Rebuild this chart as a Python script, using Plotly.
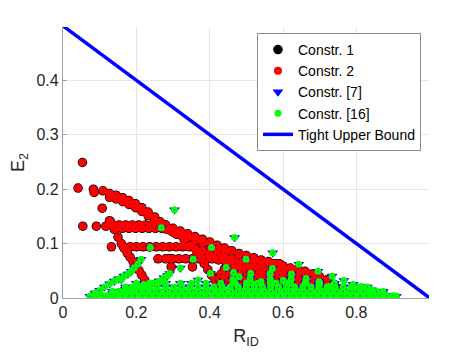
import plotly.graph_objects as go

# ---------------- Constr. 1 / Constr. 2 (achievable points, same locations) -------------
iso_r = [0.053, 0.041, 0.083, 0.085, 0.109, 0.107, 0.054, 0.091, 0.117, 0.127, 0.132, 0.259, 0.291, 0.295, 0.353]
iso_e = [0.249, 0.202, 0.200, 0.194, 0.197, 0.165, 0.132, 0.132, 0.132, 0.142, 0.094, 0.072, 0.072, 0.057, 0.057]

arc1_r = [0.127, 0.145, 0.163, 0.18, 0.198, 0.215, 0.232, 0.25, 0.265, 0.28, 0.3, 0.32, 0.34, 0.36, 0.38, 0.4,
          0.42, 0.44, 0.46, 0.48, 0.5, 0.52, 0.54, 0.56, 0.58, 0.6, 0.62, 0.64, 0.66, 0.68, 0.7, 0.72, 0.74, 0.755, 0.77]
arc1_e = [0.192, 0.189, 0.184, 0.179, 0.173, 0.166, 0.158, 0.149, 0.140, 0.134, 0.128, 0.123, 0.118, 0.113, 0.108, 0.103,
          0.097, 0.092, 0.087, 0.082, 0.078, 0.074, 0.070, 0.067, 0.063, 0.059, 0.055, 0.052, 0.049, 0.044, 0.039, 0.033, 0.025, 0.017, 0.009]

arc2_r = [0.127, 0.145, 0.163, 0.18, 0.198, 0.215, 0.232, 0.25, 0.265, 0.28, 0.3, 0.32, 0.34, 0.36, 0.38, 0.4, 0.42, 0.44]
arc2_e = [0.185, 0.182, 0.177, 0.172, 0.166, 0.159, 0.151, 0.142, 0.133, 0.127, 0.121, 0.116, 0.111, 0.106, 0.101, 0.096, 0.090, 0.085]

h1a_r = [0.135, 0.153, 0.171, 0.189, 0.207, 0.225, 0.243, 0.261, 0.279]
h1a_e = [0.134, 0.134, 0.134, 0.134, 0.134, 0.134, 0.134, 0.134, 0.134]
h1b_r = [0.144, 0.162, 0.18, 0.198, 0.216, 0.234, 0.252, 0.27]
h1b_e = [0.128, 0.128, 0.128, 0.128, 0.128, 0.128, 0.128, 0.128]

s1_r = [0.13, 0.14, 0.15, 0.159, 0.167, 0.175, 0.183, 0.191, 0.199, 0.207, 0.215, 0.223, 0.231]
s1_e = [0.14, 0.126, 0.112, 0.1, 0.091, 0.083, 0.075, 0.067, 0.059, 0.051, 0.042, 0.033, 0.024]

h2_r = [0.165, 0.183, 0.2, 0.218, 0.236, 0.254, 0.272, 0.29, 0.308, 0.326, 0.344, 0.36, 0.38, 0.40, 0.42, 0.44, 0.46]
h2_e = [0.094, 0.094, 0.094, 0.094, 0.094, 0.094, 0.094, 0.094, 0.094, 0.094, 0.094, 0.091, 0.087, 0.083, 0.079, 0.075, 0.071]

s2_r = [0.29, 0.31, 0.33, 0.35, 0.365, 0.375, 0.385, 0.395, 0.405, 0.415, 0.425]
s2_e = [0.125, 0.117, 0.108, 0.097, 0.085, 0.074, 0.063, 0.052, 0.042, 0.033, 0.025]

h3_r = [0.28, 0.298, 0.316, 0.334, 0.352, 0.37, 0.388, 0.406, 0.424, 0.442]
h3_e = [0.072, 0.072, 0.072, 0.072, 0.072, 0.072, 0.072, 0.072, 0.070, 0.068]

f1_r = [0.46, 0.48, 0.5, 0.52]
f1_e = [0.072, 0.072, 0.072, 0.072]
f2_r = [0.45, 0.47, 0.49, 0.51, 0.53, 0.55, 0.57, 0.59]
f2_e = [0.063, 0.063, 0.063, 0.063, 0.063, 0.063, 0.063, 0.063]
f3_r = [0.44, 0.46, 0.48, 0.5, 0.52, 0.54, 0.56, 0.58, 0.6, 0.62, 0.64]
f3_e = [0.053, 0.053, 0.053, 0.053, 0.053, 0.053, 0.053, 0.053, 0.053, 0.053, 0.053]
f4_r = [0.43, 0.45, 0.47, 0.49, 0.51, 0.53, 0.55, 0.57, 0.59, 0.61, 0.63, 0.65, 0.67, 0.69]
f4_e = [0.043, 0.043, 0.043, 0.043, 0.043, 0.043, 0.043, 0.043, 0.043, 0.043, 0.043, 0.043, 0.043, 0.043]
f5_r = [0.44, 0.46, 0.48, 0.5, 0.52, 0.54, 0.56, 0.58, 0.6, 0.62, 0.64, 0.66, 0.68, 0.7, 0.72]
f5_e = [0.033, 0.033, 0.033, 0.033, 0.033, 0.033, 0.033, 0.033, 0.033, 0.033, 0.033, 0.033, 0.033, 0.033, 0.033]
f6_r = [0.46, 0.48, 0.5, 0.52, 0.54, 0.56, 0.58, 0.6, 0.62, 0.64, 0.66, 0.68, 0.7, 0.72, 0.74]
f6_e = [0.024, 0.024, 0.024, 0.024, 0.024, 0.024, 0.024, 0.024, 0.024, 0.024, 0.024, 0.024, 0.024, 0.024, 0.024]

# ---------------- Constr. [7] / Constr. [16] -------------
g_iso_r = [0.304, 0.268, 0.468, 0.238, 0.405, 0.213, 0.355, 0.499, 0.194, 0.32, 0.445, 0.572, 0.643, 0.571,
           0.695, 0.512, 0.623, 0.734, 0.663, 0.766, 0.565, 0.698, 0.607, 0.791, 0.727, 0.813, 0.841, 0.872,
           0.909, 0.177, 0.291, 0.402, 0.463, 0.159, 0.263, 0.368, 0.48]
g_iso_e = [0.162, 0.129, 0.111, 0.093, 0.093, 0.071, 0.071, 0.071, 0.055, 0.055, 0.056, 0.083, 0.062, 0.054,
           0.049, 0.045, 0.044, 0.040, 0.036, 0.032, 0.035, 0.030, 0.028, 0.025, 0.021, 0.021, 0.015, 0.009,
           0.003, 0.044, 0.045, 0.045, 0.034, 0.034, 0.031, 0.033, 0.039]

g_diag_r = [0.073, 0.087, 0.1, 0.113, 0.127, 0.14, 0.152, 0.166, 0.186, 0.204]
g_diag_e = [0.003, 0.009, 0.014, 0.020, 0.026, 0.031, 0.035, 0.040, 0.049, 0.062]

g_fan_r = [0.118, 0.135, 0.152, 0.17, 0.187, 0.204, 0.221, 0.236]
g_fan_e = [0.004, 0.008, 0.012, 0.016, 0.019, 0.022, 0.025, 0.027]

g_fan2_r = [0.19, 0.21, 0.23, 0.25, 0.262, 0.275, 0.285]
g_fan2_e = [0.014, 0.019, 0.023, 0.027, 0.031, 0.037, 0.041]

g_row1_r = [0.09, 0.108, 0.126, 0.144, 0.162, 0.18, 0.198, 0.216, 0.234, 0.252, 0.27, 0.288, 0.306, 0.324,
            0.342, 0.36, 0.378, 0.396, 0.414, 0.432, 0.45, 0.468, 0.486, 0.504, 0.522, 0.54, 0.558, 0.576,
            0.594, 0.612, 0.63, 0.648, 0.666, 0.684, 0.702, 0.72, 0.738, 0.756, 0.774, 0.792, 0.81, 0.828,
            0.846, 0.864, 0.882, 0.9]
g_row1_e = [0.004, 0.004, 0.004, 0.004, 0.004, 0.004, 0.004, 0.004, 0.004, 0.004, 0.004, 0.004, 0.004, 0.004,
            0.004, 0.004, 0.004, 0.004, 0.004, 0.004, 0.004, 0.004, 0.004, 0.004, 0.004, 0.004, 0.004, 0.004,
            0.004, 0.004, 0.004, 0.004, 0.004, 0.004, 0.004, 0.004, 0.004, 0.004, 0.004, 0.004, 0.004, 0.004,
            0.004, 0.004, 0.004, 0.004]
g_row2_r = [0.135, 0.153, 0.171, 0.189, 0.207, 0.225, 0.243, 0.261, 0.279, 0.297, 0.315, 0.333, 0.351, 0.369,
            0.387, 0.405, 0.423, 0.441, 0.459, 0.477, 0.495, 0.513, 0.531, 0.549, 0.567, 0.585, 0.603, 0.621,
            0.639, 0.657, 0.675, 0.693, 0.711, 0.729, 0.747, 0.765, 0.783, 0.801, 0.819, 0.837, 0.855, 0.873]
g_row2_e = [0.012, 0.012, 0.012, 0.012, 0.012, 0.012, 0.012, 0.012, 0.012, 0.012, 0.012, 0.012, 0.012, 0.012,
            0.012, 0.012, 0.012, 0.012, 0.012, 0.012, 0.012, 0.012, 0.012, 0.012, 0.012, 0.012, 0.012, 0.012,
            0.012, 0.012, 0.012, 0.012, 0.012, 0.012, 0.012, 0.012, 0.012, 0.012, 0.012, 0.012, 0.012, 0.012]
g_row3_r = [0.17, 0.192, 0.214, 0.236, 0.258, 0.28, 0.302, 0.324, 0.346, 0.368, 0.39, 0.412, 0.434, 0.456,
            0.478, 0.5, 0.522, 0.544, 0.566, 0.588, 0.61, 0.632, 0.654, 0.676, 0.698, 0.72, 0.742, 0.764,
            0.786, 0.808, 0.83]
g_row3_e = [0.02, 0.02, 0.02, 0.02, 0.02, 0.02, 0.02, 0.02, 0.02, 0.02, 0.02, 0.02, 0.02, 0.02,
            0.02, 0.02, 0.02, 0.02, 0.02, 0.02, 0.02, 0.02, 0.02, 0.02, 0.02, 0.02, 0.02, 0.02,
            0.02, 0.02, 0.02]
g_row4_r = [0.2, 0.24, 0.28, 0.32, 0.35, 0.39, 0.43, 0.47, 0.5, 0.53, 0.58, 0.62, 0.66, 0.7, 0.74]
g_row4_e = [0.027, 0.027, 0.027, 0.027, 0.027, 0.027, 0.027, 0.027, 0.027, 0.027, 0.027, 0.027, 0.027, 0.027, 0.027]

g_spk_r = [0.465, 0.465, 0.51, 0.512, 0.565, 0.566, 0.622, 0.663, 0.698, 0.54, 0.6]
g_spk_e = [0.047, 0.030, 0.036, 0.028, 0.045, 0.028, 0.035, 0.028, 0.024, 0.030, 0.032]

# ---------------- Tight upper bound -------------
bound_r = [0.0, 1.0]
bound_e = [0.5, 0.0]

x_ticks = [0, 0.2, 0.4, 0.6, 0.8]
x_tick_text = ["0", "0.2", "0.4", "0.6", "0.8"]
y_ticks = [0, 0.1, 0.2, 0.3, 0.4]
y_tick_text = ["0", "0.1", "0.2", "0.3", "0.4"]

red_r = iso_r + arc1_r + arc2_r + h1a_r + h1b_r + s1_r + h2_r + s2_r + h3_r + f1_r + f2_r + f3_r + f4_r + f5_r + f6_r
red_e = iso_e + arc1_e + arc2_e + h1a_e + h1b_e + s1_e + h2_e + s2_e + h3_e + f1_e + f2_e + f3_e + f4_e + f5_e + f6_e

grn_r = g_row1_r + g_row2_r + g_row3_r + g_row4_r + g_fan_r + g_fan2_r + g_diag_r + g_spk_r + g_iso_r
grn_e = g_row1_e + g_row2_e + g_row3_e + g_row4_e + g_fan_e + g_fan2_e + g_diag_e + g_spk_e + g_iso_e

FONT = "Liberation Sans, Arial, Helvetica, sans-serif"

fig = go.Figure()
fig.add_trace(go.Scatter(x=red_r, y=red_e, mode="markers", name="Constr. 1",
                         marker=dict(symbol="circle", size=9.5, color="black", line=dict(width=0))))
fig.add_trace(go.Scatter(x=red_r, y=red_e, mode="markers", name="Constr. 2",
                         marker=dict(symbol="circle-open", size=4.5, color="#ff0000", line=dict(width=3.5, color="#ff0000"))))
fig.add_trace(go.Scatter(x=grn_r, y=grn_e, mode="markers", name="Constr. [7]",
                         marker=dict(symbol="triangle-down", size=9.5, color="#0000ff", line=dict(width=0))))
fig.add_trace(go.Scatter(x=grn_r, y=grn_e, mode="markers", name="Constr. [16]",
                         marker=dict(symbol="circle-open", size=4, color="#00ff00", line=dict(width=3, color="#00ff00"))))
fig.add_trace(go.Scatter(x=bound_r, y=bound_e, mode="lines", name="Tight Upper Bound",
                         line=dict(color="#0000ff", width=3.5)))

axis_common = dict(showgrid=True, gridcolor="#e6e6e6", gridwidth=1, zeroline=False,
                   showline=True, linecolor="#a0a0a0", linewidth=1.2, ticks="inside", ticklen=4,
                   tickcolor="#a0a0a0", tickfont=dict(family=FONT, size=16, color="#262626"))

# the page body has an 8 px default margin; the figure is sized to fit the 474x355 window
fig.update_layout(
    width=466, height=347,
    margin=dict(l=55, r=45, t=19, b=57, autoexpand=False),
    paper_bgcolor="white", plot_bgcolor="white",
    font=dict(family=FONT, color="#262626"),
    showlegend=True,
    legend=dict(x=0.53, y=0.978, xanchor="left", yanchor="top",
                bgcolor="white", bordercolor="#8c8c8c", borderwidth=1,
                font=dict(family=FONT, size=14, color="black"),
                itemwidth=30, tracegroupgap=0),
    xaxis=dict(range=[0, 0.998], tickvals=x_ticks, ticktext=x_tick_text,
               title=dict(text="R<sub>ID</sub>", font=dict(family=FONT, size=18, color="#262626"), standoff=9),
               **axis_common),
    yaxis=dict(range=[0, 0.498], tickvals=y_ticks, ticktext=y_tick_text,
               title=dict(text="E<sub>2</sub>", font=dict(family=FONT, size=18, color="#262626"), standoff=12),
               **axis_common),
)

fig.write_html("out.html")
